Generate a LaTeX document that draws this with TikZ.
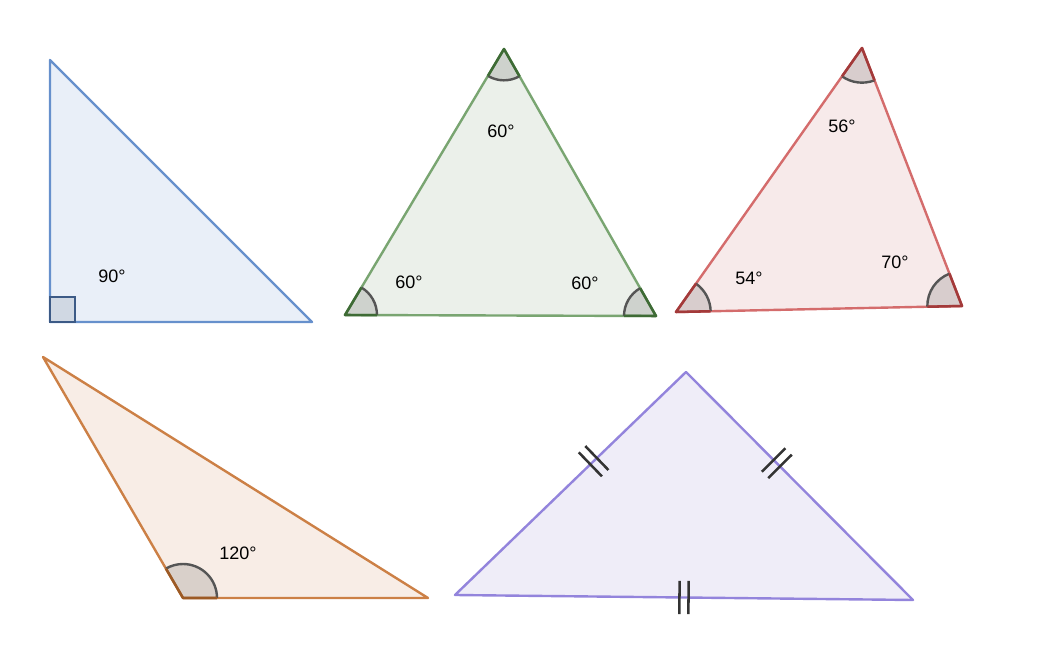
\documentclass[tikz,border=0pt]{standalone}
\usepackage{fontspec}
\setmainfont{Liberation Sans}
\usetikzlibrary{calc,angles}
\definecolor{bS}{HTML}{6690CC}\definecolor{bF}{HTML}{E9EFF8}\definecolor{bD}{HTML}{3C5A86}\definecolor{bQ}{HTML}{D0D8E3}
\definecolor{gS}{HTML}{79A571}\definecolor{gF}{HTML}{EBF0EA}\definecolor{gD}{HTML}{3E6B35}
\definecolor{rS}{HTML}{D46C6C}\definecolor{rF}{HTML}{F7EAEA}\definecolor{rD}{HTML}{A33A3A}
\definecolor{oS}{HTML}{CC8046}\definecolor{oF}{HTML}{F8EDE6}\definecolor{oD}{HTML}{9C5A25}
\definecolor{pS}{HTML}{9384DC}\definecolor{pF}{HTML}{EFEDF8}
\definecolor{arcG}{HTML}{555555}\definecolor{tickG}{HTML}{333333}
\tikzset{
  tri/.style={line width=1.8pt, line join=round},
  lbl/.style={font=\fontsize{13.5pt}{15pt}\selectfont, inner sep=0pt, anchor=center},
  angmark/.style={draw=arcG, line width=1.8pt, fill=black, fill opacity=0.12},
  tickmark/.style={draw=tickG, line width=1.9pt},
}
\newcommand\tkpair[2]{%
  \path ($(#1)!3.4pt!(#2)$) coordinate (ta) ($(#1)!-3.4pt!(#2)$) coordinate (tb);
  \draw[tickmark] ($(ta)!12.5pt!90:(#2)$) -- ($(ta)!12.5pt!-90:(#2)$);
  \draw[tickmark] ($(tb)!12.5pt!90:(#2)$) -- ($(tb)!12.5pt!-90:(#2)$);
}
\newcommand\darkedge[5]{% color, radius, vertex, p, q
  \draw[#1, line width=1.9pt, line join=round] ($(#3)!#2!(#4)$) -- (#3) -- ($(#3)!#2!(#5)$);
}
\begin{document}
\begin{tikzpicture}[x=0.75pt,y=-0.75pt]
\useasboundingbox (0,0) rectangle (1058,652);
% ---------- blue right triangle
\coordinate (bA) at (50,60); \coordinate (bB) at (50,322); \coordinate (bC) at (312,322);
\filldraw[tri, draw=bS, fill=bF] (bA) -- (bB) -- (bC) -- cycle;
\draw[bD, fill=bQ, line width=1.8pt] (50,297) rectangle (75,322);
\node[lbl] (l90) at (112,276) {90°};
% ---------- green equilateral
\coordinate (gT) at (504,49); \coordinate (gL) at (345,315); \coordinate (gR) at (656,316);
\filldraw[tri, draw=gS, fill=gF] (gT) -- (gL) -- (gR) -- cycle;
\pic[angmark, angle radius=23.5pt] {angle = gL--gT--gR};
\pic[angmark, angle radius=24pt] {angle = gR--gL--gT};
\pic[angmark, angle radius=24pt] {angle = gT--gR--gL};
\darkedge{gD}{23.5pt}{gT}{gL}{gR}
\darkedge{gD}{24pt}{gL}{gT}{gR}
\darkedge{gD}{24pt}{gR}{gT}{gL}
\node[lbl] (g1) at (501,131) {60°};
\node[lbl] (g2) at (409,282) {60°};
\node[lbl] (g3) at (585,283) {60°};
% ---------- red scalene
\coordinate (rT) at (862,48); \coordinate (rL) at (676,312); \coordinate (rR) at (962,306);
\filldraw[tri, draw=rS, fill=rF] (rT) -- (rL) -- (rR) -- cycle;
\pic[angmark, angle radius=26pt] {angle = rL--rT--rR};
\pic[angmark, angle radius=26pt] {angle = rR--rL--rT};
\pic[angmark, angle radius=26pt] {angle = rT--rR--rL};
\darkedge{rD}{26pt}{rT}{rL}{rR}
\darkedge{rD}{26pt}{rL}{rT}{rR}
\darkedge{rD}{26pt}{rR}{rT}{rL}
\node[lbl] (r1) at (842,126) {56°};
\node[lbl] (r2) at (749,278) {54°};
\node[lbl] (r3) at (895,262) {70°};
% ---------- orange obtuse
\coordinate (oA) at (43,357); \coordinate (oB) at (183,598); \coordinate (oC) at (428,598);
\filldraw[tri, draw=oS, fill=oF] (oA) -- (oB) -- (oC) -- cycle;
\pic[angmark, angle radius=25.5pt] {angle = oC--oB--oA};
\darkedge{oD}{25.5pt}{oB}{oA}{oC}
\node[lbl] (o1) at (238,553) {120°};
% ---------- purple isosceles
\coordinate (pT) at (686,372); \coordinate (pL) at (455,595); \coordinate (pR) at (913,600);
\filldraw[tri, draw=pS, fill=pF] (pT) -- (pL) -- (pR) -- cycle;
\coordinate (pm1) at ($(pL)!0.6!(pT)$);
\coordinate (pm2) at ($(pR)!0.6!(pT)$);
\coordinate (pm3) at ($(pL)!0.5!(pR)$);
\tkpair{pm1}{pT}
\tkpair{pm2}{pT}
\tkpair{pm3}{pR}
\end{tikzpicture}
\end{document}
